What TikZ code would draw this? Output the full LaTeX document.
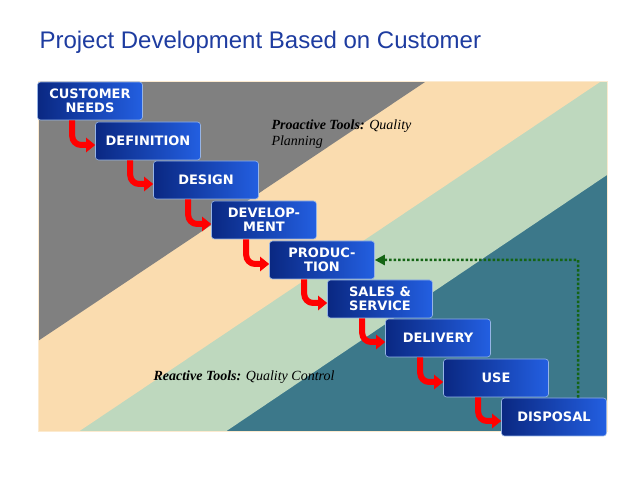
\documentclass[tikz,border=0pt]{standalone}
\usepackage{fontspec}
\setmainfont{Liberation Serif}
\newfontfamily\boxfont{DejaVu Sans}
\newfontfamily\titlefont{Liberation Sans}
\usetikzlibrary{arrows.meta,calc}
\definecolor{bgray}{RGB}{128,128,128}
\definecolor{borange}{RGB}{250,220,175}
\definecolor{bgreen}{RGB}{190,216,190}
\definecolor{bteal}{RGB}{60,120,138}
\definecolor{titleblue}{RGB}{30,60,160}
\definecolor{boxdark}{RGB}{10,40,130}
\definecolor{boxlight}{RGB}{35,95,225}
\definecolor{dgreen}{RGB}{20,100,20}
\tikzset{
  stage/.style={draw={rgb,255:red,150;green,180;blue,230}, line width=0.6pt, rounded corners=3pt,
    left color=boxdark, right color=boxlight, minimum width=105pt, minimum height=38pt,
    text=white, align=center, font=\boxfont\bfseries\fontsize{13}{14}\selectfont, inner sep=1pt},
  flow/.style={red, line width=6pt, rounded corners=9pt, -{Triangle[length=9pt,width=14pt]}},
  feedback/.style={dgreen, line width=2.5pt, dotted, -{Triangle[length=10pt,width=10pt]}},
  note/.style={anchor=north west, align=left, font=\fontsize{14}{16}\selectfont}
}
\begin{document}
\begin{tikzpicture}[x=1pt,y=-1pt]
\useasboundingbox (0,0) rectangle (638,478);
\fill[white] (0,0) rectangle (638,478);
\node[anchor=west, text=titleblue, font=\titlefont\fontsize{24}{28}\selectfont] (title) at (36,42) {Project Development Based on Customer};
\begin{scope}
\clip (38,82) rectangle (607,432);
\fill[bteal] (38,82) rectangle (607,432);
\fill[bgreen] (-100,82) -- (607,82) -- (607,175) -- (225,432) -- (-100,432) -- cycle;
\fill[borange] (-100,82) -- (600,82) -- (78,432) -- (-100,432) -- cycle;
\fill[bgray] (-100,82) -- (425,82) -- (38,341) -- (-100,432) -- cycle;
\end{scope}
\draw[borange!60, line width=1pt] (38,82) rectangle (607,432);
\node[stage] (n1) at (90,101) {CUSTOMER\\NEEDS};
\node[stage] (n2) at (148,141) {DEFINITION};
\node[stage] (n3) at (206,180) {DESIGN};
\node[stage] (n4) at (264,220) {DEVELOP-\\MENT};
\node[stage] (n5) at (322,260) {PRODUC-\\TION};
\node[stage] (n6) at (380,299) {SALES \&\\SERVICE};
\node[stage] (n7) at (438,338) {DELIVERY};
\node[stage] (n8) at (496,378) {USE};
\node[stage] (n9) at (554,417) {DISPOSAL};
\foreach \a/\b in {n1/n2,n2/n3,n3/n4,n4/n5,n5/n6,n6/n7,n7/n8,n8/n9}{
  \draw[flow] ($(\a.south west)+(35,0)$) |- ($(\b.west)+(0,4)$);
}
\coordinate (fb) at (578,260);
\draw[feedback] ($(n9.north west)+(77,0)$) -- (fb) -- (n5.east);
\node[note] (pro) at (268,116) {\textbf{\textit{Proactive Tools:}} \textit{Quality}\\\textit{Planning}};
\node[note] (re) at (150,367) {\textbf{\textit{Reactive Tools:}} \textit{Quality Control}};
\end{tikzpicture}
\end{document}
